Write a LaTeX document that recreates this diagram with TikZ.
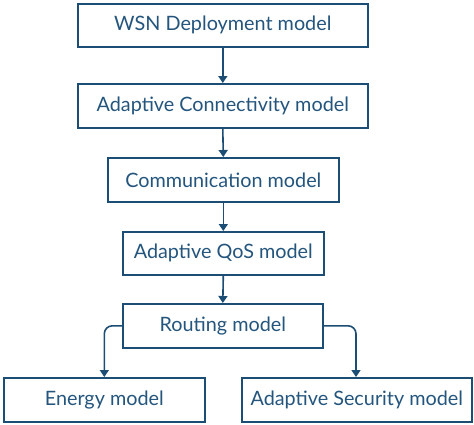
\documentclass[tikz,border=0pt]{standalone}
\usepackage{fontspec}
\setmainfont{Lato}
\usetikzlibrary{arrows.meta}
\definecolor{dblue}{HTML}{1C4D74}
\definecolor{tblue}{HTML}{24557D}
\tikzset{
  box/.style={draw=dblue, line width=1.6pt, text=tblue, font=\fontsize{19.8}{23}\selectfont, inner sep=0pt, anchor=north west},
  conn/.style={draw=dblue, line width=1.6pt, -{Triangle[length=7pt,width=9pt]}, rounded corners=8pt}
}
\begin{document}
\begin{tikzpicture}[x=1pt,y=-1pt]
\useasboundingbox (0,0) rectangle (474,424);
\node[box, minimum width=290pt, minimum height=43pt] (wsn) at (77,3) {WSN Deployment model};
\node[box, minimum width=290pt, minimum height=44pt] (acm) at (77,83) {Adaptive Connectivity model};
\node[box, minimum width=231pt, minimum height=44pt] (com) at (107,157) {Communication model};
\node[box, minimum width=201pt, minimum height=43pt] (qos) at (122,231) {Adaptive QoS model};
\node[box, minimum width=200pt, minimum height=44pt] (rout) at (122,303) {Routing model};
\node[box, minimum width=201pt, minimum height=44pt] (ener) at (3,377) {Energy model};
\node[box, minimum width=230pt, minimum height=44pt] (sec) at (241,377) {Adaptive Security model};
\draw[conn] (wsn.south) -- (acm.north);
\draw[conn] (acm.south) -- (com.north);
\draw[conn] (com.south) -- (qos.north);
\draw[conn] (qos.south) -- (rout.north);
\draw[conn] (rout.west) -| (ener.north);
\draw[conn] (rout.east) -| (sec.north -| 356,0);
\end{tikzpicture}
\end{document}
